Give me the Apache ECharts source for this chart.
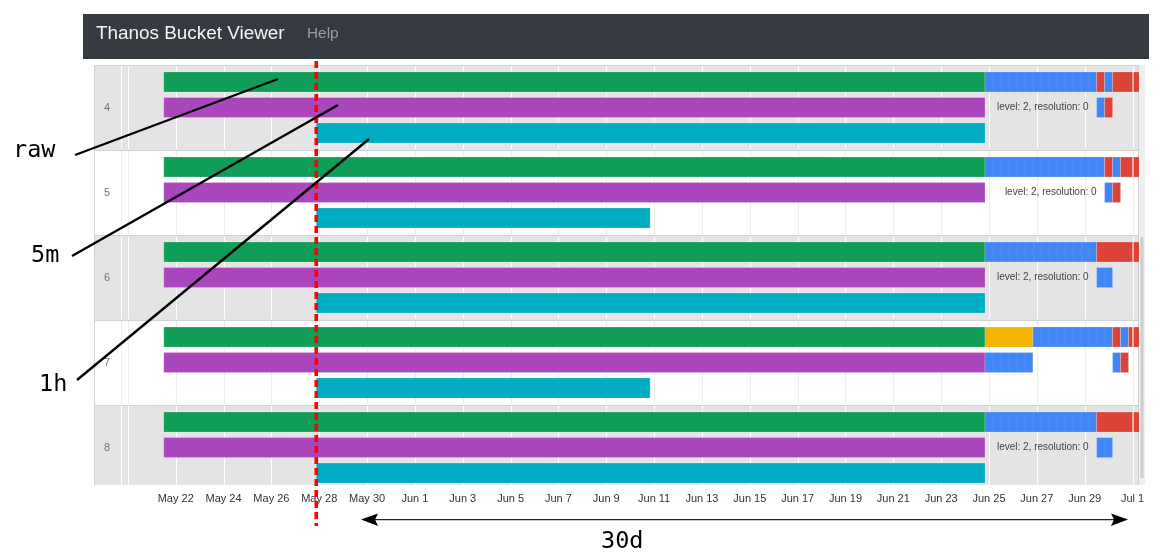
<!DOCTYPE html>
<html>
<head>
<meta charset="utf-8">
<title>Thanos Bucket Viewer</title>
<script src="https://cdn.jsdelivr.net/npm/echarts@6/dist/echarts.min.js"></script>
<style>
	html, body { margin: 0; padding: 0; background: #fff; }
	#chart { width: 1164px; height: 557px; }
</style>
</head>
<body>
<div id="chart"></div>
<script>
	// all times are hours after May 22 00:00
	var levels = [4, 5, 6, 7, 8];

	var tickHours = [0, 48, 96, 144, 192, 240, 288, 336, 384, 432, 480, 528, 576, 624, 672, 720, 768, 816, 864, 912, 960];
	var tickLabels = ['May 22', 'May 24', 'May 26', 'May 28', 'May 30', 'Jun 1', 'Jun 3', 'Jun 5', 'Jun 7', 'Jun 9', 'Jun 11',
		'Jun 13', 'Jun 15', 'Jun 17', 'Jun 19', 'Jun 21', 'Jun 23', 'Jun 25', 'Jun 27', 'Jun 29', 'Jul 1'];
	var extraGridHours = [-55, -48];
	var cutoffHour = 141;

	// [start, end, kind]
	var raw4 = [[-12, 812, 'raw'], [812, 924, 'blue'], [924, 932, 'red'], [932, 940, 'blue'], [940, 960, 'red'], [961, 968, 'red']];
	var raw5 = [[-12, 812, 'raw'], [812, 932, 'blue'], [932, 940, 'red'], [940, 948, 'blue'], [948, 960, 'red'], [961, 968, 'red']];
	var raw6 = [[-12, 812, 'raw'], [812, 924, 'blue'], [924, 960, 'red'], [961, 968, 'red']];
	var raw7 = [[-12, 812, 'raw'], [812, 860, 'yellow'], [860, 940, 'blue'], [940, 948, 'red'], [948, 956, 'blue'], [956, 960, 'red'], [961, 968, 'red']];
	var raw8 = [[-12, 812, 'raw'], [812, 924, 'blue'], [924, 960, 'red'], [961, 968, 'red']];

	var fiveMin4 = [[-12, 812, 'fiveMin'], [924, 932, 'blue'], [932, 940, 'red']];
	var fiveMin5 = [[-12, 812, 'fiveMin'], [932, 940, 'blue'], [940, 948, 'red']];
	var fiveMin6 = [[-12, 812, 'fiveMin'], [924, 940, 'blue']];
	var fiveMin7 = [[-12, 812, 'fiveMin'], [812, 860, 'blue'], [940, 948, 'blue'], [948, 956, 'red']];
	var fiveMin8 = [[-12, 812, 'fiveMin'], [924, 940, 'blue']];

	var oneHour4 = [[141, 812, 'oneHour']];
	var oneHour5 = [[141, 476, 'oneHour']];
	var oneHour6 = [[141, 812, 'oneHour']];
	var oneHour7 = [[141, 476, 'oneHour']];
	var oneHour8 = [[141, 812, 'oneHour']];

	// [level, hour the text ends at]
	var blockLabels = [[4, 924], [5, 932], [6, 924], [8, 924]];
	var blockLabelText = 'level: 2, resolution: 0';

	var kindColors = {
		raw: '#0f9d58',
		fiveMin: '#ab47bc',
		oneHour: '#00acc1',
		blue: '#4285f4',
		red: '#db4437',
		yellow: '#f4b400'
	};
	var blockHours = 8;
	var xMin = -82, xMax = 966.5;
	var yMin = 3.5, yMax = 8.44;

	function addRows(out, rows, offset){
		for(var i=0; i<rows.length; i++){
			for(var j=0; j<rows[i].length; j++){
				var r = rows[i][j];
				out.push([r[0], r[1], levels[i]+offset, r[2]]);
			}
		}
	}

	var barData = [];
	addRows(barData, [raw4, raw5, raw6, raw7, raw8], -0.3);
	addRows(barData, [fiveMin4, fiveMin5, fiveMin6, fiveMin7, fiveMin8], 0);
	addRows(barData, [oneHour4, oneHour5, oneHour6, oneHour7, oneHour8], 0.3);

	function renderBand(params, api){
		var level = api.value(0);
		var tl = api.coord([xMin, level-0.5]);
		var br = api.coord([xMax, level+0.5]);
		var odd = params.dataIndex % 2 == 1;
		var children = [{
			type: 'rect',
			shape: {x: tl[0]+0.5, y: tl[1]+0.5, width: br[0]-tl[0]-1, height: br[1]-tl[1]},
			style: {fill: odd ? '#ffffff' : '#e4e4e4', stroke: '#d2d2d2', lineWidth: 1}
		}];
		var hours = extraGridHours.concat(tickHours);
		for(var i=0; i<hours.length; i++){
			var x = Math.round(api.coord([hours[i], level])[0])+0.5;
			children.push({
				type: 'line',
				shape: {x1: x, y1: tl[1]+1, x2: x, y2: br[1]-1},
				style: {stroke: odd ? '#ececec' : '#ffffff', lineWidth: 1}
			});
		}
		return {type: 'group', children: children};
	}

	function renderBar(params, api){
		var start = api.value(0), end = api.value(1), y = api.value(2);
		var a = api.coord([start, y]);
		var b = api.coord([end, y]);
		var kind = barData[params.dataIndex][3];
		var children = [{
			type: 'rect',
			shape: {x: a[0], y: a[1]-10, width: b[0]-a[0], height: 20},
			style: {fill: kindColors[kind], stroke: 'rgba(255,255,255,0.2)', lineWidth: 1}
		}];
		// blue runs are made of 8h blocks, only a faint seam shows between them
		if(kind == 'blue'){
			for(var h=start+blockHours; h<end; h+=blockHours){
				var x = Math.round(api.coord([h, y])[0])+0.5;
				children.push({
					type: 'line',
					shape: {x1: x, y1: a[1]-9.5, x2: x, y2: a[1]+9.5},
					style: {stroke: 'rgba(255,255,255,0.1)', lineWidth: 1}
				});
			}
		}
		return {type: 'group', children: children};
	}

	function renderBlockLabel(params, api){
		var p = api.coord([api.value(1), api.value(0)]);
		return {
			type: 'text',
			style: {
				x: p[0]-8, y: p[1], text: blockLabelText, align: 'right', verticalAlign: 'middle',
				fill: '#444', font: '10px "Liberation Sans"'
			}
		};
	}

	function renderCutoff(params, api){
		var x = api.coord([api.value(0), yMin])[0];
		return {
			type: 'line',
			shape: {x1: x, y1: 61, x2: x, y2: 526},
			style: {stroke: '#ff0000', lineWidth: 3.6, lineDash: [7, 4]}
		};
	}

	function note(text, x, y, size){
		return {
			type: 'text', z: 20, x: x, y: y,
			style: {text: text, fill: '#000', font: size+'px "DejaVu Sans Mono"', verticalAlign: 'middle'}
		};
	}

	function pointer(x1, y1, x2, y2){
		return {
			type: 'line', z: 20,
			shape: {x1: x1, y1: y1, x2: x2, y2: y2},
			style: {stroke: '#000', lineWidth: 2.4}
		};
	}

	var chart = echarts.init(document.getElementById('chart'));
	chart.setOption({
		animation: false,
		backgroundColor: '#fff',
		grid: {left: 94, top: 65, width: 1045, height: 420},
		tooltip: {show: false},
		xAxis: {
			type: 'value',
			min: xMin,
			max: xMax,
			axisLine: {show: false},
			axisTick: {show: false},
			splitLine: {show: false},
			axisLabel: {
				customValues: tickHours,
				margin: 8,
				color: '#333',
				fontFamily: 'Liberation Sans',
				fontSize: 11,
				formatter: function(v){
					return tickLabels[tickHours.indexOf(v)];
				}
			}
		},
		yAxis: {
			type: 'value',
			inverse: true,
			min: yMin,
			max: yMax,
			z: 3,
			axisLine: {show: false},
			axisTick: {show: false},
			splitLine: {show: false},
			axisLabel: {
				customValues: levels,
				inside: true,
				margin: 10,
				color: '#777',
				fontFamily: 'Liberation Sans',
				fontSize: 11
			}
		},
		series: [
			{
				type: 'custom', z: 1, clip: true, silent: true,
				renderItem: renderBand,
				encode: {x: 1, y: 0},
				data: levels.map(function(l){ return [l, 0]; })
			},
			{
				type: 'custom', z: 4, clip: true, silent: true,
				renderItem: renderBar,
				encode: {x: [0, 1], y: 2},
				data: barData
			},
			{
				type: 'custom', z: 5, silent: true,
				renderItem: renderBlockLabel,
				encode: {x: 1, y: 0},
				data: blockLabels
			},
			{
				type: 'custom', z: 6, clip: false, silent: true,
				renderItem: renderCutoff,
				encode: {x: 0},
				data: [[cutoffHour]]
			}
		],
		graphic: [
			{type: 'rect', z: 10, shape: {x: 83, y: 14, width: 1066, height: 45}, style: {fill: '#343a40'}},
			{type: 'text', z: 11, x: 96, y: 33.5, style: {text: 'Thanos Bucket Viewer', fill: '#f4f4f4', font: '18.9px "Liberation Sans"', verticalAlign: 'middle'}},
			{type: 'text', z: 11, x: 307, y: 33.5, style: {text: 'Help', fill: '#9a9da0', font: '15.4px "Liberation Sans"', verticalAlign: 'middle'}},
			{type: 'rect', z: 10, shape: {x: 1139, y: 65, width: 6, height: 420}, style: {fill: '#efefef'}},
			{type: 'rect', z: 11, shape: {x: 1140.5, y: 237, width: 3, height: 241}, style: {fill: '#cdcdcd'}},
			pointer(75, 155, 278, 79),
			pointer(72, 256, 338, 105),
			pointer(77, 380, 369, 139),
			note('raw', 13, 151, 23.5),
			note('5m', 31, 256, 23.5),
			note('1h', 39, 385, 23.5),
			note('30d', 601, 542, 23.5),
			{type: 'line', z: 20, shape: {x1: 372, y1: 519.6, x2: 1118, y2: 519.6}, style: {stroke: '#222', lineWidth: 1.4}},
			{type: 'polygon', z: 20, shape: {points: [[361, 519.6], [378, 513.5], [375, 519.6], [378, 526]]}, style: {fill: '#000'}},
			{type: 'polygon', z: 20, shape: {points: [[1128, 519.6], [1111, 513.5], [1114, 519.6], [1111, 526]]}, style: {fill: '#000'}}
		]
	});
</script>
</body>
</html>
